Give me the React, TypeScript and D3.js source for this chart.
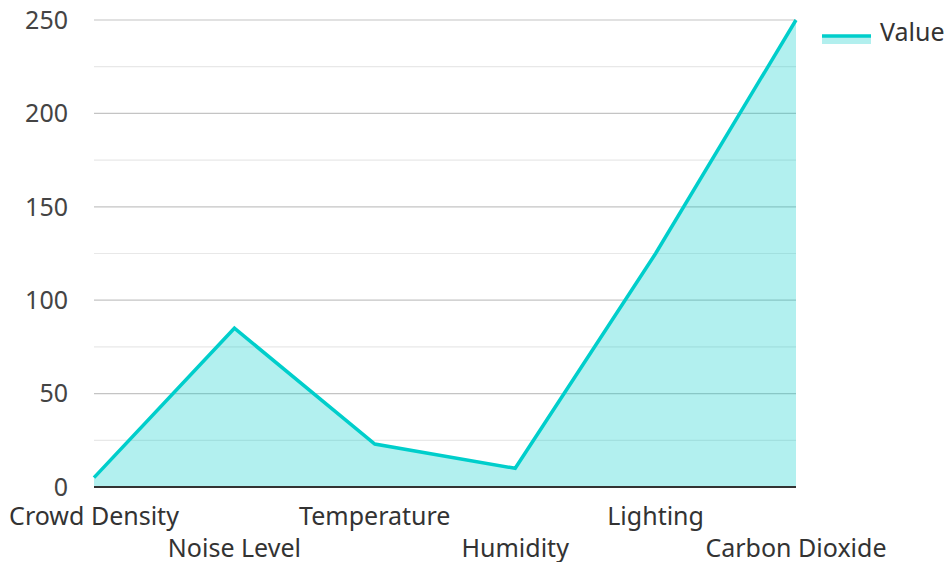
import React, { useEffect, useRef } from 'react';
import * as d3 from 'd3';

// Chart data
const categories = ['Crowd Density', 'Noise Level', 'Temperature', 'Humidity', 'Lighting', 'Carbon Dioxide'];
const values = [5, 85, 23, 10, 125, 250];
const majorTicks = [0, 50, 100, 150, 200, 250];
const minorTicks = [25, 75, 125, 175, 225];
const seriesName = 'Value';

function AreaChart() {
  const svgRef = useRef<SVGSVGElement>(null);

  useEffect(() => {
    const svg = d3.select(svgRef.current);
    svg.selectAll('*').remove();

    const width = 946;
    const height = 562;
    const margin = { top: 20, right: 150, bottom: 75, left: 94 };
    const innerWidth = width - margin.left - margin.right;
    const innerHeight = height - margin.top - margin.bottom;
    const font = '"Noto Sans", "Open Sans", sans-serif';
    const lineColor = '#00cecb';
    const fillColor = '#b2efee';
    const fontSize = 25;

    const g = svg.append('g').attr('transform', `translate(${margin.left},${margin.top})`);

    const x = d3.scalePoint<string>().domain(categories).range([0, innerWidth]);
    const y = d3.scaleLinear().domain([0, 250]).range([innerHeight, 0]);

    // Gridlines (minor then major)
    g.selectAll('.minor')
      .data(minorTicks)
      .join('line')
      .attr('x1', 0)
      .attr('x2', innerWidth)
      .attr('y1', d => y(d))
      .attr('y2', d => y(d))
      .attr('stroke', '#e8e8e8')
      .attr('stroke-width', 1.2);

    g.selectAll('.major')
      .data(majorTicks.filter(t => t !== 0))
      .join('line')
      .attr('x1', 0)
      .attr('x2', innerWidth)
      .attr('y1', d => y(d))
      .attr('y2', d => y(d))
      .attr('stroke', '#c4c4c4')
      .attr('stroke-width', 1.2);

    // Area + line
    const pts = categories.map((c, i) => ({ c, v: values[i] }));
    const area = d3.area<{ c: string; v: number }>()
      .x(d => x(d.c)!)
      .y0(y(0))
      .y1(d => y(d.v));
    const line = d3.line<{ c: string; v: number }>()
      .x(d => x(d.c)!)
      .y(d => y(d.v));

    g.append('path')
      .datum(pts)
      .attr('d', area)
      .attr('fill', lineColor)
      .attr('fill-opacity', 0.3);

    g.append('path')
      .datum(pts)
      .attr('d', line)
      .attr('fill', 'none')
      .attr('stroke', lineColor)
      .attr('stroke-width', 3.5)
      .attr('stroke-linejoin', 'miter');

    // Baseline
    g.append('line')
      .attr('x1', 0)
      .attr('x2', innerWidth)
      .attr('y1', y(0))
      .attr('y2', y(0))
      .attr('stroke', '#333')
      .attr('stroke-width', 2);

    // Y tick labels
    g.selectAll('.ylab')
      .data(majorTicks)
      .join('text')
      .attr('x', -26)
      .attr('y', d => y(d))
      .attr('dy', '0.35em')
      .attr('text-anchor', 'end')
      .attr('font-family', font)
      .attr('font-size', fontSize)
      .attr('fill', '#444')
      .text(d => d);

    // X category labels, staggered on two rows
    g.selectAll('.xlab')
      .data(categories)
      .join('text')
      .attr('x', d => x(d)!)
      .attr('y', (d, i) => innerHeight + (i % 2 === 0 ? 29 : 61))
      .attr('dy', '0.35em')
      .attr('text-anchor', 'middle')
      .attr('font-family', font)
      .attr('font-size', fontSize)
      .attr('fill', '#333')
      .text(d => d);

    // Legend
    const lg = svg.append('g').attr('transform', `translate(822, 32)`);
    lg.append('rect')
      .attr('x', 0)
      .attr('y', 4)
      .attr('width', 49)
      .attr('height', 8)
      .attr('fill', fillColor);
    lg.append('line')
      .attr('x1', 0)
      .attr('x2', 49)
      .attr('y1', 4)
      .attr('y2', 4)
      .attr('stroke', lineColor)
      .attr('stroke-width', 3.5);
    lg.append('text')
      .attr('x', 58)
      .attr('y', 0)
      .attr('dy', '0.35em')
      .attr('font-family', font)
      .attr('font-size', fontSize)
      .attr('fill', '#333')
      .text(seriesName);
  }, []);

  return <svg ref={svgRef} width={946} height={562} style={{ display: 'block' }} />;
}

export default function App() {
  return (
    <div style={{ position: 'absolute', left: 0, top: 0 }}>
      <AreaChart />
    </div>
  );
}
